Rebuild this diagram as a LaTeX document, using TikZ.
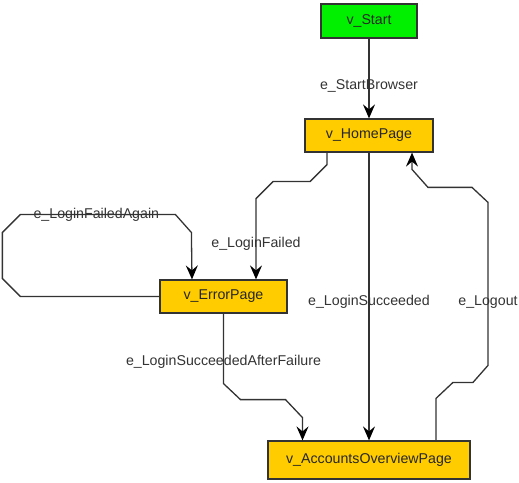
\documentclass[tikz,border=0pt]{standalone}
\usepackage{fontspec}
\setmainfont{Liberation Sans}
\usetikzlibrary{arrows.meta}
\definecolor{vgreen}{HTML}{00F000}
\definecolor{vorange}{HTML}{FFCC00}
\definecolor{vline}{HTML}{333333}
\begin{document}
\begin{tikzpicture}[
            x=1bp, y=-1bp,
            font=\fontsize{14.2bp}{16bp}\selectfont,
            vertex/.style={draw=vline, line width=1.2bp, fill=vorange, text=black!85,
                minimum height=33bp, inner sep=0pt},
            startvertex/.style={vertex, fill=vgreen},
            transition/.style={draw=vline, line width=1.3bp,
                -{Stealth[length=14bp, width=12bp, inset=5bp, color=black]}},
            elabel/.style={text=black!80, inner sep=1bp}
        ]
            \useasboundingbox (0,0) rectangle (519,483);
            % vertices
            \node[startvertex, minimum width=96bp, minimum height=34bp] (start) at (369,21) {v\_Start};
            \node[vertex, minimum width=128bp] (home) at (369,135.5) {v\_HomePage};
            \node[vertex, minimum width=127bp] (error) at (223.5,296.5) {v\_ErrorPage};
            \node[vertex, minimum width=202bp, minimum height=38bp] (accounts) at (369,460) {v\_AccountsOverviewPage};
            % edges
            \draw[transition] (start) -- node[elabel, pos=0.59] {e\_StartBrowser} (home);
            \draw[transition] ([xshift=-42bp]home.south) -- ++(0,12) -- ++(-17,17) -- ++(-37,0)
                -- ++(-17,17) -- node[elabel, pos=0.56] {e\_LoginFailed} ([xshift=32.5bp]error.north);
            \draw[transition] (error.west) -- ++(-139,0) -- ++(-18,-18) -- ++(0,-46) -- ++(18,-18)
                -- node[elabel, pos=0.49] {e\_LoginFailedAgain} ++(155,0) -- ++(16,18)
                -- ([xshift=-31.5bp]error.north);
            \draw[transition] (error.south) -- node[elabel, pos=0.69] {e\_LoginSucceededAfterFailure} ++(0,70)
                -- ++(17,16) -- ++(45,0) -- ++(17,18) -- ([xshift=-66.5bp]accounts.north);
            \draw[transition] (home) -- node[elabel, pos=0.52] {e\_LoginSucceeded} (accounts);
            \draw[transition] ([xshift=67bp]accounts.north) -- ++(0,-42) -- ++(17,-16) -- ++(20,0)
                -- ++(15,-17) -- node[elabel, pos=0.39] {e\_Logout} ++(0,-163) -- ++(-16,-15)
                -- ++(-44,0) -- ++(-16,-18) -- ([xshift=43bp]home.south);
        \end{tikzpicture}
\end{document}
